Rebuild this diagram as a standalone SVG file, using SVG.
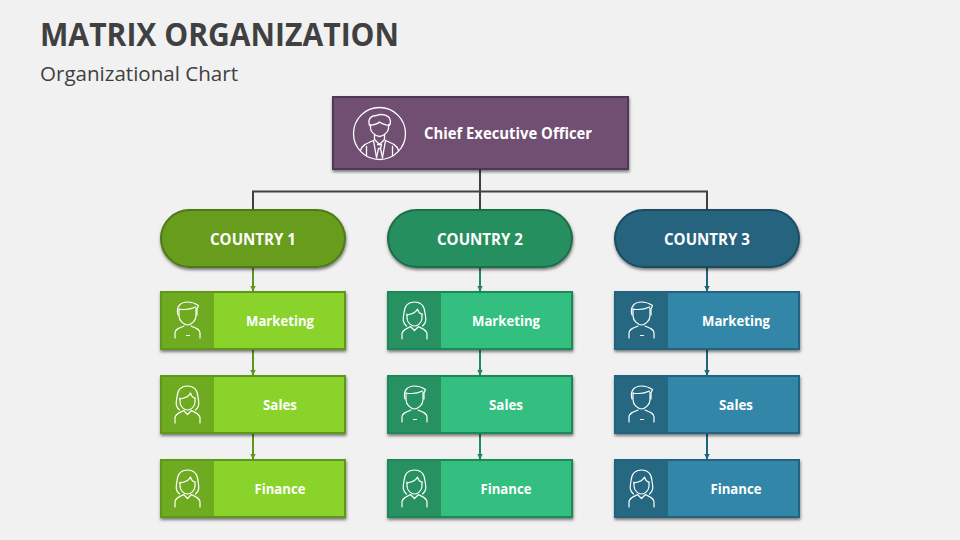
<svg xmlns="http://www.w3.org/2000/svg" width="960" height="540" viewBox="0 0 960 540">
<style>
text{font-family:"Open Sans","Noto Sans","Liberation Sans",sans-serif}
.t{font-weight:700;fill:#fff;text-anchor:middle}
.c{font-size:15.5px}
.d{font-size:14px}
.ic{fill:none;stroke:#fff;stroke-width:1.2;stroke-linecap:round;stroke-linejoin:round}
.g1 .b{fill:#89d329;stroke:#5f961b}.g1 .l{fill:#6fab20}.g1 .p{fill:#679c1e;stroke:#4c7a15}
.g2 .b{fill:#33bf7f;stroke:#1f8a58}.g2 .l{fill:#279162}.g2 .p{fill:#268f5f;stroke:#1c6e49}
.g3 .b{fill:#3287a9;stroke:#22647f}.g3 .l{fill:#266882}.g3 .p{fill:#25647e;stroke:#1b4c60}
.b,.p{stroke-width:2}
.wire{fill:none;stroke-width:2}
</style>
<defs>
<filter id="sh" x="-10%" y="-10%" width="120%" height="130%"><feDropShadow dx="0.5" dy="2" stdDeviation="1.5" flood-color="#000" flood-opacity="0.5"/></filter>
<marker id="a1" markerWidth="6" markerHeight="6" refX="5.5" refY="3" orient="auto" markerUnits="userSpaceOnUse"><path d="M0,0L6,3L0,6Z" fill="#5f961b"/></marker>
<marker id="a2" markerWidth="6" markerHeight="6" refX="5.5" refY="3" orient="auto" markerUnits="userSpaceOnUse"><path d="M0,0L6,3L0,6Z" fill="#1f8a58"/></marker>
<marker id="a3" markerWidth="6" markerHeight="6" refX="5.5" refY="3" orient="auto" markerUnits="userSpaceOnUse"><path d="M0,0L6,3L0,6Z" fill="#22647f"/></marker>
<g id="man" class="ic">
<path d="M-9.500,-5C-12,-13-7,-18 0,-18C4,-18 8,-16.500 11,-14.500L9.500,-11L9.500,-5"/>
<path d="M-8.500,-11C-3,-10 4,-11 8,-13"/>
<path d="M-8.500,-11L-8.500,-4C-8.500,1-3,5 0,5C3,5 8.500,1 8.500,-4L8.500,-12"/>
<path d="M-12.500,18L-12.500,13C-12.500,9-8,8-3.500,6M12.500,18L12.500,13C12.500,9 8,8 3.500,6"/>
<path d="M-1,15.500L2,15.500"/>
</g>
<g id="woman" class="ic">
<path d="M-8,6C-13,2-11,-3-10.500,-7C-10,-14-6,-18 0,-18C6,-18 10,-14 10.500,-7C11,-3 13,2 8,6"/>
<path d="M-7.500,-5C-2,-6 2,-8 3,-11C4,-8 6,-6 7.500,-6"/>
<path d="M-7.500,-6L-7.500,-2C-7.500,3-3,6 0,6C3,6 7.500,3 7.500,-2L7.500,-6"/>
<path d="M-12.500,19L-12.500,14C-12.500,10-8,9-4,6.500L0,10.500L4,6.500C8,9 12.500,10 12.500,14L12.500,19"/>
</g>
</defs>
<rect width="960" height="540" fill="#f1f1f1"/>
<text x="40" y="46" font-size="32" font-weight="700" fill="#404040" textLength="359" lengthAdjust="spacingAndGlyphs">MATRIX ORGANIZATION</text>
<text x="40" y="81" font-size="20" fill="#404040" textLength="198" lengthAdjust="spacingAndGlyphs">Organizational Chart</text>
<g id="connectors">
<path class="wire" stroke="#404040" d="M480,169V210M253,210V191.500H707V210"/>
<g class="wire" stroke="#5f961b"><path d="M253,267V291" marker-end="url(#a1)"/><path d="M253,349V375" marker-end="url(#a1)"/><path d="M253,433V459" marker-end="url(#a1)"/></g>
<g class="wire" stroke="#1f8a58"><path d="M480,267V291" marker-end="url(#a2)"/><path d="M480,349V375" marker-end="url(#a2)"/><path d="M480,433V459" marker-end="url(#a2)"/></g>
<g class="wire" stroke="#22647f"><path d="M707,267V291" marker-end="url(#a3)"/><path d="M707,349V375" marker-end="url(#a3)"/><path d="M707,433V459" marker-end="url(#a3)"/></g>
</g>
<g id="ceo">
<rect x="333" y="97" width="295" height="72" fill="#6f5073" stroke="#4f3853" stroke-width="2" filter="url(#sh)"/>
<g class="ic" transform="translate(379.500,133.500)" style="stroke-width:1.300">
<circle r="26"/>
<path d="M-10,-8C-12,-14-9,-18-3,-18C1,-20 9,-19 10.500,-14C11.500,-12 11,-10 10,-8"/>
<path d="M-9,-8C-5,-9-2,-9 0,-11.500C3,-9 6,-9 9,-8"/>
<path d="M-9,-9L-9,-5C-9,-2-4,3 0,3C4,3 9,-2 9,-5L9,-9"/>
<path d="M-5,1L-5,6L0,11L5,6L5,1"/>
<path d="M-19,17C-18,12-13,10-6,7L-3,24M19,17C18,12 13,10 6,7L3,24"/>
<path d="M-2,11L2,11L1,15L3,24M1,15L-1,15L-3,24"/>
<path d="M-13,13L-13,22M13,13L13,22"/>
</g>
<text class="t" x="508" y="138.500" style="font-size:15.500px" textLength="168" lengthAdjust="spacingAndGlyphs">Chief Executive Officer</text>
</g>
<g class="g1">
<g id="country1"><rect class="p" x="161" y="210" width="184" height="57" rx="28.500" filter="url(#sh)"/><text class="t c" x="253" y="244.500" textLength="86" lengthAdjust="spacingAndGlyphs">COUNTRY 1</text></g>
<g id="c1-marketing"><rect class="b" x="161" y="292" width="184" height="57" filter="url(#sh)"/><rect class="l" x="162" y="293" width="52" height="55"/><use href="#man" x="187.500" y="320"/><text class="t d" x="280" y="326" textLength="68" lengthAdjust="spacingAndGlyphs">Marketing</text></g>
<g id="c1-sales"><rect class="b" x="161" y="376" width="184" height="57" filter="url(#sh)"/><rect class="l" x="162" y="377" width="52" height="55"/><use href="#woman" x="187.500" y="404"/><text class="t d" x="280" y="410" textLength="34" lengthAdjust="spacingAndGlyphs">Sales</text></g>
<g id="c1-finance"><rect class="b" x="161" y="460" width="184" height="57" filter="url(#sh)"/><rect class="l" x="162" y="461" width="52" height="55"/><use href="#woman" x="187.500" y="488"/><text class="t d" x="280" y="494" textLength="51" lengthAdjust="spacingAndGlyphs">Finance</text></g>
</g>
<g class="g2">
<g id="country2"><rect class="p" x="388" y="210" width="184" height="57" rx="28.500" filter="url(#sh)"/><text class="t c" x="480" y="244.500" textLength="86" lengthAdjust="spacingAndGlyphs">COUNTRY 2</text></g>
<g id="c2-marketing"><rect class="b" x="388" y="292" width="184" height="57" filter="url(#sh)"/><rect class="l" x="389" y="293" width="52" height="55"/><use href="#woman" x="414.500" y="320"/><text class="t d" x="506" y="326" textLength="68" lengthAdjust="spacingAndGlyphs">Marketing</text></g>
<g id="c2-sales"><rect class="b" x="388" y="376" width="184" height="57" filter="url(#sh)"/><rect class="l" x="389" y="377" width="52" height="55"/><use href="#man" x="414.500" y="404"/><text class="t d" x="506" y="410" textLength="34" lengthAdjust="spacingAndGlyphs">Sales</text></g>
<g id="c2-finance"><rect class="b" x="388" y="460" width="184" height="57" filter="url(#sh)"/><rect class="l" x="389" y="461" width="52" height="55"/><use href="#woman" x="414.500" y="488"/><text class="t d" x="506" y="494" textLength="51" lengthAdjust="spacingAndGlyphs">Finance</text></g>
</g>
<g class="g3">
<g id="country3"><rect class="p" x="615" y="210" width="184" height="57" rx="28.500" filter="url(#sh)"/><text class="t c" x="707" y="244.500" textLength="86" lengthAdjust="spacingAndGlyphs">COUNTRY 3</text></g>
<g id="c3-marketing"><rect class="b" x="615" y="292" width="184" height="57" filter="url(#sh)"/><rect class="l" x="616" y="293" width="52" height="55"/><use href="#man" x="641.500" y="320"/><text class="t d" x="736" y="326" textLength="68" lengthAdjust="spacingAndGlyphs">Marketing</text></g>
<g id="c3-sales"><rect class="b" x="615" y="376" width="184" height="57" filter="url(#sh)"/><rect class="l" x="616" y="377" width="52" height="55"/><use href="#man" x="641.500" y="404"/><text class="t d" x="736" y="410" textLength="34" lengthAdjust="spacingAndGlyphs">Sales</text></g>
<g id="c3-finance"><rect class="b" x="615" y="460" width="184" height="57" filter="url(#sh)"/><rect class="l" x="616" y="461" width="52" height="55"/><use href="#woman" x="641.500" y="488"/><text class="t d" x="736" y="494" textLength="51" lengthAdjust="spacingAndGlyphs">Finance</text></g>
</g>
</svg>
